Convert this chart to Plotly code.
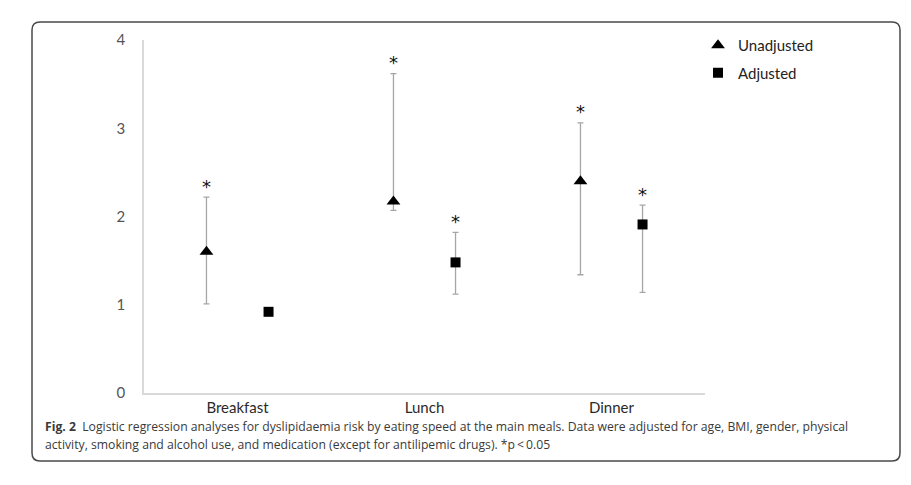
import plotly.graph_objects as go
import numpy as np

# ---- data ----
meals = ["Breakfast", "Lunch", "Dinner"]
unadj_or = [1.60, 2.17, 2.40]
unadj_lo = [1.01, 2.07, 1.34]
unadj_hi = [2.22, 3.62, 3.06]
adj_or = [0.92, 1.48, 1.91]
adj_lo = [0.88, 1.12, 1.14]
adj_hi = [0.95, 1.82, 2.13]
unadj_sig = [True, True, True]
adj_sig = [False, True, True]
y_ticks = [0, 1, 2, 3, 4]

caption_bold = "Fig. 2"
caption_l1 = ("Logistic regression analyses for dyslipidaemia risk by eating speed at the main meals. "
              "Data were adjusted for age, BMI, gender, physical")
caption_l2 = "activity, smoking and alcohol use, and medication (except for antilipemic drugs). *p\u2009<\u20090.05"

# ---- layout geometry (pixels) ----
W, H = 911, 485
L, R, T, B = 144, 705, 40, 393
OFF = 0.166

def px(x):
    return (x - L) / (R - L)

def py(y):
    return (B - y) / (B - T)

base = np.arange(len(meals))
xu = base - OFF
xa = base + OFF

def err(v, lo, hi):
    return dict(type="data", symmetric=False,
                array=[h - m for h, m in zip(hi, v)],
                arrayminus=[m - l for m, l in zip(v, lo)],
                color="#a6a6a6", thickness=1.3, width=3)

fig = go.Figure()
fig.add_trace(go.Scatter(
    x=xu, y=unadj_or, mode="markers", name="Unadjusted",
    marker=dict(symbol="triangle-up", size=12, color="black"),
    error_y=err(unadj_or, unadj_lo, unadj_hi), legendgroup="u"))
fig.add_trace(go.Scatter(
    x=xa, y=adj_or, mode="markers", name="Adjusted",
    marker=dict(symbol="square", size=10, color="black"),
    error_y=err(adj_or, adj_lo, adj_hi), legendgroup="a"))

# significance stars
sx = [x for x, s in zip(xu, unadj_sig) if s] + [x for x, s in zip(xa, adj_sig) if s]
sy = [y for y, s in zip(unadj_hi, unadj_sig) if s] + [y for y, s in zip(adj_hi, adj_sig) if s]
fig.add_trace(go.Scatter(
    x=sx, y=sy, mode="text", text=["*"] * len(sx), textposition="top center",
    textfont=dict(size=18, color="#111", family="DejaVu Sans"), showlegend=False,
    hoverinfo="skip"))

# rounded frame
x0, x1, y0, y1, r = 32, 900, 22, 461, 8
pts = (f"M {px(x0 + r)},{py(y0)} L {px(x1 - r)},{py(y0)} Q {px(x1)},{py(y0)} {px(x1)},{py(y0 + r)} "
       f"L {px(x1)},{py(y1 - r)} Q {px(x1)},{py(y1)} {px(x1 - r)},{py(y1)} "
       f"L {px(x0 + r)},{py(y1)} Q {px(x0)},{py(y1)} {px(x0)},{py(y1 - r)} "
       f"L {px(x0)},{py(y0 + r)} Q {px(x0)},{py(y0)} {px(x0 + r)},{py(y0)} Z")
fig.add_shape(type="path", path=pts, xref="paper", yref="paper",
              line=dict(color="#4a4a4a", width=1.5), layer="below")

cap_font = dict(family="Open Sans", size=12.2, color="#3a3a3a")
fig.add_annotation(x=px(43), y=py(426), xref="paper", yref="paper", xanchor="left", yanchor="middle",
                   showarrow=False, align="left",
                   text=f"<b>{caption_bold}</b>  {caption_l1}", font=cap_font)
fig.add_annotation(x=px(43), y=py(444), xref="paper", yref="paper", xanchor="left", yanchor="middle",
                   showarrow=False, align="left", text=caption_l2, font=cap_font)

fig.update_layout(
    width=W, height=H,
    margin=dict(l=L, r=W - R, t=T, b=H - B, pad=0),
    paper_bgcolor="white", plot_bgcolor="white",
    font=dict(family="Lato", color="#333"),
    showlegend=True,
    legend=dict(x=px(698), y=py(29), xanchor="left", yanchor="top",
                font=dict(size=15, color="#222"), tracegroupgap=5,
                bgcolor="rgba(0,0,0,0)", traceorder="grouped"),
    xaxis=dict(range=[-0.5, 2.5], tickvals=list(base), ticktext=meals,
               showgrid=False, zeroline=False, showline=True, linecolor="#d9d9d9", linewidth=1.5,
               ticks="", tickfont=dict(size=15, color="#2a2a2a"), fixedrange=True),
    yaxis=dict(range=[0, 4], tickvals=y_ticks, showgrid=False, zeroline=False,
               showline=True, linecolor="#d9d9d9", linewidth=1.5, ticks="",
               ticklabelstandoff=14, tickfont=dict(size=15, color="#555"), fixedrange=True),
)

fig.write_html("out.html")
